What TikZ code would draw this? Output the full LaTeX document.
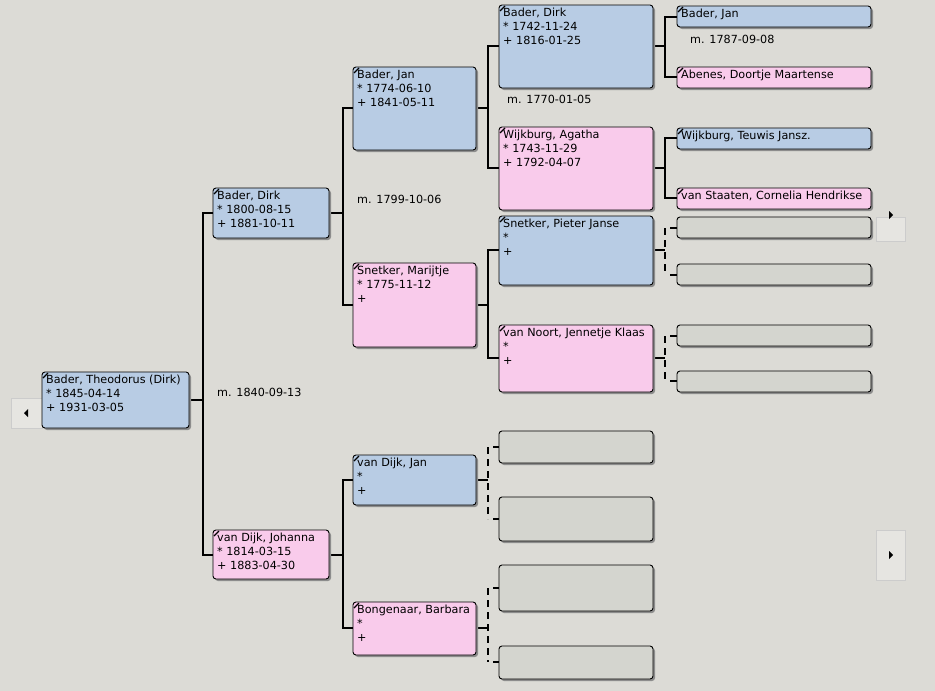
\documentclass[tikz,border=0pt]{standalone}
\usepackage{fontspec}
\setmainfont{DejaVu Sans}
\begin{document}
\begin{tikzpicture}[x=1pt,y=-1pt,
  bx/.style={rounded corners=3pt,draw=black,line width=0.9pt},
  male/.style={bx,fill=mblue},
  fem/.style={bx,fill=fpink},
  empty/.style={bx,fill=egrey},
  shad/.style={fill=black!45,rounded corners=3pt},
  ln/.style={line width=2.2pt},
  dl/.style={line width=2.2pt,dash pattern=on 7pt off 5pt},
  txt/.style={anchor=north west,align=left,inner sep=0pt,font=\fontsize{11.2}{14}\selectfont},
  btn/.style={fill=btngrey,draw=white!60!gray}]
\definecolor{mblue}{HTML}{B8CCE4}
\definecolor{fpink}{HTML}{F9CBEB}
\definecolor{egrey}{HTML}{D4D5CF}
\definecolor{bgc}{HTML}{DCDBD6}
\definecolor{btngrey}{HTML}{E6E5E1}
\fill[bgc] (0,0) rectangle (935,691);
\useasboundingbox (0,0) rectangle (935,691);
\newcommand{\pbox}[7]{% name style x1 y1 x2 y2 text
  \fill[shad] (#3+2,#4+2) rectangle (#5+2,#6+2);
  \path[#2] (#3,#4) rectangle (#5,#6);
  \coordinate (#1L) at (#3,{(#4+#6)/2});
  \coordinate (#1R) at (#5,{(#4+#6)/2});
  \ifx&#7&\else
  \draw[line width=1.3pt] (#3+1,#4+6) -- (#3+6,#4+1);
  \node[txt] (#1) at (#3+4,#4+3) {#7};
  \fi}
% buttons
\draw[btn] (11,398) rectangle (42,428); \fill (24,413) -- (28,409) -- (28,417) -- cycle;
\draw[btn] (876,217) rectangle (905,241); \fill (893,215) -- (889,211) -- (889,219) -- cycle;
\draw[btn] (876,530) rectangle (905,580); \fill (893,555) -- (889,551) -- (889,559) -- cycle;
% connectors
\draw[ln] (189,400) -- (203,400);
\draw[ln] (213,213) -- (203,213) -- (203,555) -- (213,555);
\draw[ln] (329,213) -- (343,213);
\draw[ln] (353,108) -- (343,108) -- (343,305) -- (353,305);
\draw[ln] (329,555) -- (343,555);
\draw[ln] (353,480) -- (343,480) -- (343,628) -- (353,628);
\draw[ln] (476,108) -- (488,108);
\draw[ln] (499,46) -- (488,46) -- (488,168) -- (499,168);
\draw[ln] (476,305) -- (488,305);
\draw[ln] (499,250) -- (488,250) -- (488,358) -- (499,358);
\draw[ln] (653,46) -- (665,46);
\draw[ln] (677,17) -- (665,17) -- (665,77) -- (677,77);
\draw[ln] (653,168) -- (665,168);
\draw[ln] (677,138) -- (665,138) -- (665,198) -- (677,198);
% dashed
\draw[ln] (653,250) -- (665,250); \draw[ln] (670,228)--(677,228); \draw[ln] (670,275)--(677,275);
\draw[dl] (665,228) -- (665,275);
\draw[ln] (653,358) -- (665,358); \draw[ln] (670,336)--(677,336); \draw[ln] (670,381)--(677,381);
\draw[dl] (665,336) -- (665,381);
\draw[ln] (476,480) -- (488,480); \draw[ln] (493,447)--(499,447); \draw[ln] (493,519)--(499,519);
\draw[dl] (488,447) -- (488,519);
\draw[ln] (476,628) -- (488,628); \draw[ln] (493,588)--(499,588); \draw[ln] (493,662)--(499,662);
\draw[dl] (488,588) -- (488,662);
% boxes
\pbox{p0}{male}{42}{372}{189}{428}{Bader, Theodorus (Dirk)\\* 1845-04-14\\+ 1931-03-05}
\pbox{p1}{male}{213}{188}{329}{238}{Bader, Dirk\\* 1800-08-15\\+ 1881-10-11}
\pbox{p2}{fem}{213}{530}{329}{579}{van Dijk, Johanna\\* 1814-03-15\\+ 1883-04-30}
\pbox{p3}{male}{353}{67}{476}{150}{Bader, Jan\\* 1774-06-10\\+ 1841-05-11}
\pbox{p4}{fem}{353}{263}{476}{347}{Snetker, Marijtje\\* 1775-11-12\\+}
\pbox{p5}{male}{353}{455}{476}{505}{van Dijk, Jan\\*\\+}
\pbox{p6}{fem}{353}{602}{476}{655}{Bongenaar, Barbara\\*\\+}
\pbox{p7}{male}{499}{5}{653}{88}{Bader, Dirk\\* 1742-11-24\\+ 1816-01-25}
\pbox{p8}{fem}{499}{127}{653}{210}{Wijkburg, Agatha\\* 1743-11-29\\+ 1792-04-07}
\pbox{p9}{male}{499}{216}{653}{285}{Snetker, Pieter Janse\\*\\+}
\pbox{p10}{fem}{499}{325}{653}{392}{van Noort, Jennetje Klaas\\*\\+}
\pbox{e1}{empty}{499}{431}{653}{463}{}
\pbox{e2}{empty}{499}{497}{653}{541}{}
\pbox{e3}{empty}{499}{565}{653}{611}{}
\pbox{e4}{empty}{499}{646}{653}{679}{}
\pbox{p11}{male}{677}{6}{871}{27}{Bader, Jan}
\pbox{p12}{fem}{677}{67}{871}{88}{Abenes, Doortje Maartense}
\pbox{p13}{male}{677}{128}{871}{149}{Wijkburg, Teuwis Jansz.}
\pbox{p14}{fem}{677}{188}{871}{209}{van Staaten, Cornelia Hendrikse}
\pbox{e5}{empty}{677}{217}{871}{238}{}
\pbox{e6}{empty}{677}{264}{871}{285}{}
\pbox{e7}{empty}{677}{325}{871}{346}{}
\pbox{e8}{empty}{677}{371}{871}{392}{}
% marriage labels
\node[txt] (m1) at (217,388) {m. 1840-09-13};
\node[txt] (m2) at (357,195) {m. 1799-10-06};
\node[txt] (m3) at (507,95) {m. 1770-01-05};
\node[txt] (m4) at (690,35) {m. 1787-09-08};
\end{tikzpicture}
\end{document}
